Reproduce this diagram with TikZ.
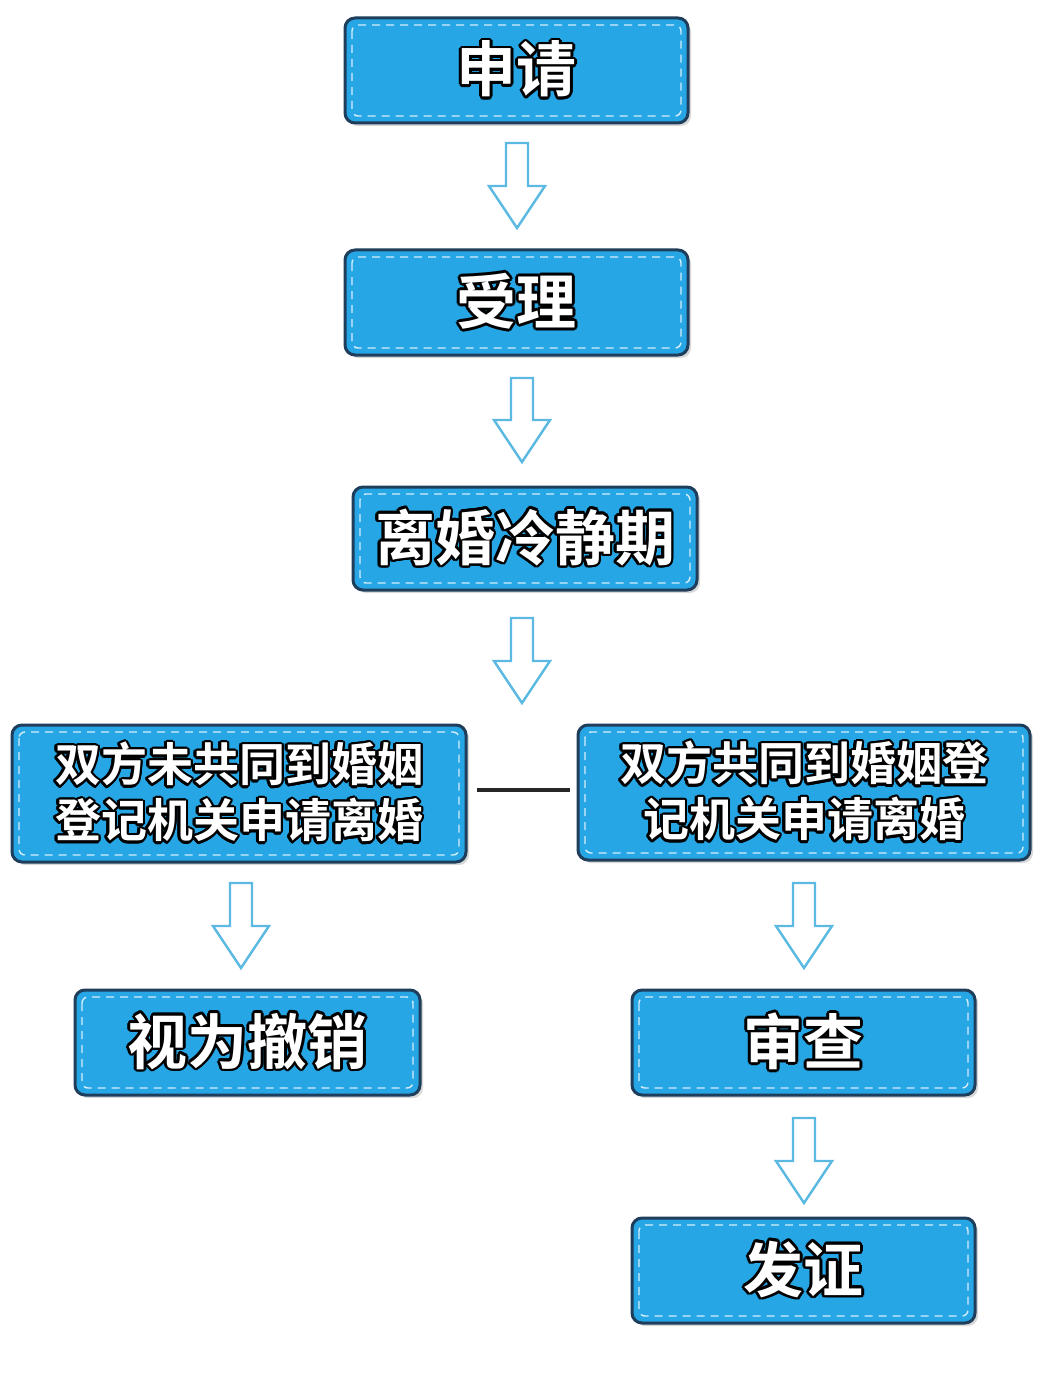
\documentclass[tikz,border=0pt]{standalone}
\usepackage{fontspec}
\newfontfamily\cjk{Noto Sans CJK SC}[BoldFont={Noto Sans CJK SC Bold}]
\usepackage[copies]{contour}
\contourlength{1.3pt}
\usetikzlibrary{calc,shadows}
\definecolor{boxblue}{HTML}{27A6E6}
\definecolor{boxedge}{HTML}{1E3E5C}
\definecolor{arrowblue}{HTML}{5BB9E2}
\tikzset{
  box/.style={draw=boxedge,line width=1.5pt,fill=boxblue,rounded corners=5pt,
    drop shadow={shadow xshift=1.5pt,shadow yshift=-1.5pt,fill=gray!60}},
  inner/.style={draw=white!80!boxblue,line width=0.7pt,dash pattern=on 4pt off 3pt,rounded corners=3pt},
  lab/.style={font=\cjk\bfseries\fontsize{30}{32}\selectfont,text=white,align=center},
  lab2/.style={font=\cjk\bfseries\fontsize{23}{28}\selectfont,text=white,align=center},
  harrow/.style={draw=arrowblue,line width=1.2pt,fill=white,line join=miter}
}
\newcommand{\bx}[7]{%
  \draw[box] (#2,#3) rectangle (#4,#5);
  \draw[inner] ($(#2,#3)+(7,7)$) rectangle ($(#4,#5)+(-7,-7)$);
  \node[#6] (#1) at ($(#2,#3)!0.5!(#4,#5)$) {#7};}
\newcommand{\darr}[3]{% cx, ytop, ybot
  \draw[harrow] (#1-11,#2) -- (#1+11,#2) -- (#1+11,#3-42) -- (#1+28,#3-42) -- (#1,#3) -- (#1-28,#3-42) -- (#1-11,#3-42) -- cycle;}
\begin{document}
\begin{tikzpicture}[x=0.5pt,y=-0.5pt]
\useasboundingbox (0,0) rectangle (1042,1375);
\fill[white] (0,0) rectangle (1042,1375);
\bx{a}{345}{18}{688}{123}{lab}{\contour{black}{申请}}
\darr{517}{143}{228}
\bx{b}{345}{250}{688}{355}{lab}{\contour{black}{受理}}
\darr{522}{378}{462}
\bx{c}{353}{487}{697}{590}{lab}{\contour{black}{离婚冷静期}}
\darr{522}{618}{703}
\bx{l}{12}{725}{466}{862}{lab2}{\contour{black}{双方未共同到婚姻}\\\contour{black}{登记机关申请离婚}}
\bx{r}{578}{725}{1030}{860}{lab2}{\contour{black}{双方共同到婚姻登}\\\contour{black}{记机关申请离婚}}
\coordinate (le) at (477,790);
\coordinate (re) at (570,790);
\draw[line width=2.2pt,draw=black!85] (le) -- (re);
\darr{241}{883}{968}
\darr{804}{883}{968}
\bx{s}{75}{990}{420}{1095}{lab}{\contour{black}{视为撤销}}
\bx{t}{632}{990}{975}{1095}{lab}{\contour{black}{审查}}
\darr{804}{1118}{1203}
\bx{f}{632}{1218}{975}{1323}{lab}{\contour{black}{发证}}
\end{tikzpicture}
\end{document}
